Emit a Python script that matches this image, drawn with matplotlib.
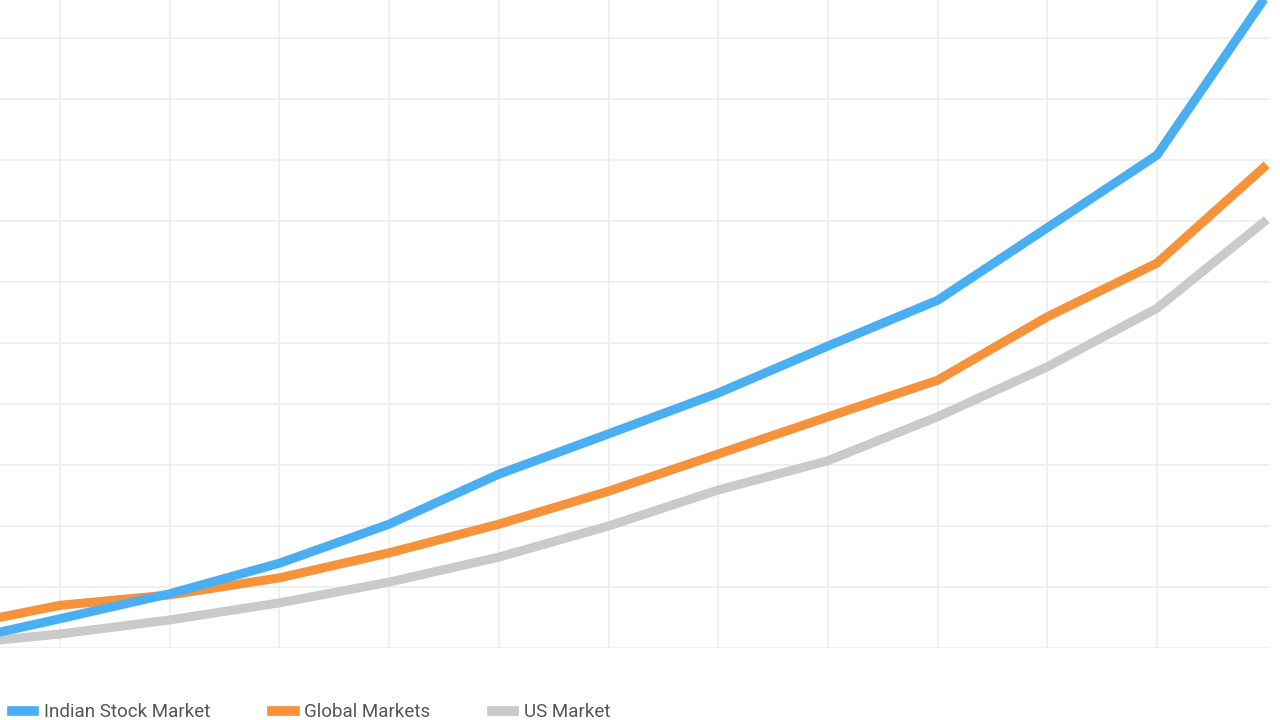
import numpy as np
import matplotlib.pyplot as plt
from matplotlib.lines import Line2D

# periods (one per vertical gridline, the first one lies left of the crop)
periods = np.arange(-1, 12)

# values, in gridline units
indian = [0.08, 0.48, 0.89, 1.39, 2.03, 2.85, 3.51, 4.18, 4.95, 5.70, 6.89, 8.08, 10.70]
glob_mkt = [0.34, 0.70, 0.87, 1.15, 1.56, 2.03, 2.57, 3.18, 3.79, 4.39, 5.43, 6.31, 7.92]
us_mkt = [0.05, 0.23, 0.46, 0.74, 1.08, 1.49, 2.00, 2.59, 3.07, 3.79, 4.61, 5.57, 7.02]

labels = ["Indian Stock Market", "Global Markets", "US Market"]
colors = ["#4aaef2", "#f5923a", "#cacaca"]

fig = plt.figure(figsize=(12.8, 7.2), dpi=100)
ax = fig.add_axes([0, 72 / 720, 1270 / 1280, 648 / 720])

# draw back to front so blue sits on top
for vals, col, z in zip([us_mkt, glob_mkt, indian], colors[::-1], [3, 4, 5]):
    ax.plot(periods, vals, color=col, lw=6.5, solid_joinstyle='round',
            solid_capstyle='butt', clip_on=False, zorder=z)

ax.set_xlim(-60 / 109.7, 1210 / 109.7)
ax.set_ylim(0, 648 / 61)
ax.set_xticks(np.arange(0, 11))
ax.set_yticks(np.arange(0, 11))
ax.tick_params(length=0, labelbottom=False, labelleft=False)
ax.grid(True, color='#eeeeee', lw=1.2)
ax.set_axisbelow(True)
for s in ax.spines.values():
    s.set_visible(False)

# legend sits right at the bottom edge
handles = [Line2D([0], [0], color=c, lw=7) for c in colors]
fig.legend(handles, labels, loc='upper left', bbox_to_anchor=(0.002, 0.036),
           ncol=3, frameon=False, handlelength=1.2,
           handletextpad=0.5, columnspacing=3.3, borderpad=0,
           labelcolor='#555555', prop={'family': 'Roboto', 'size': 13.5})

fig.savefig("out.png", dpi=100)
